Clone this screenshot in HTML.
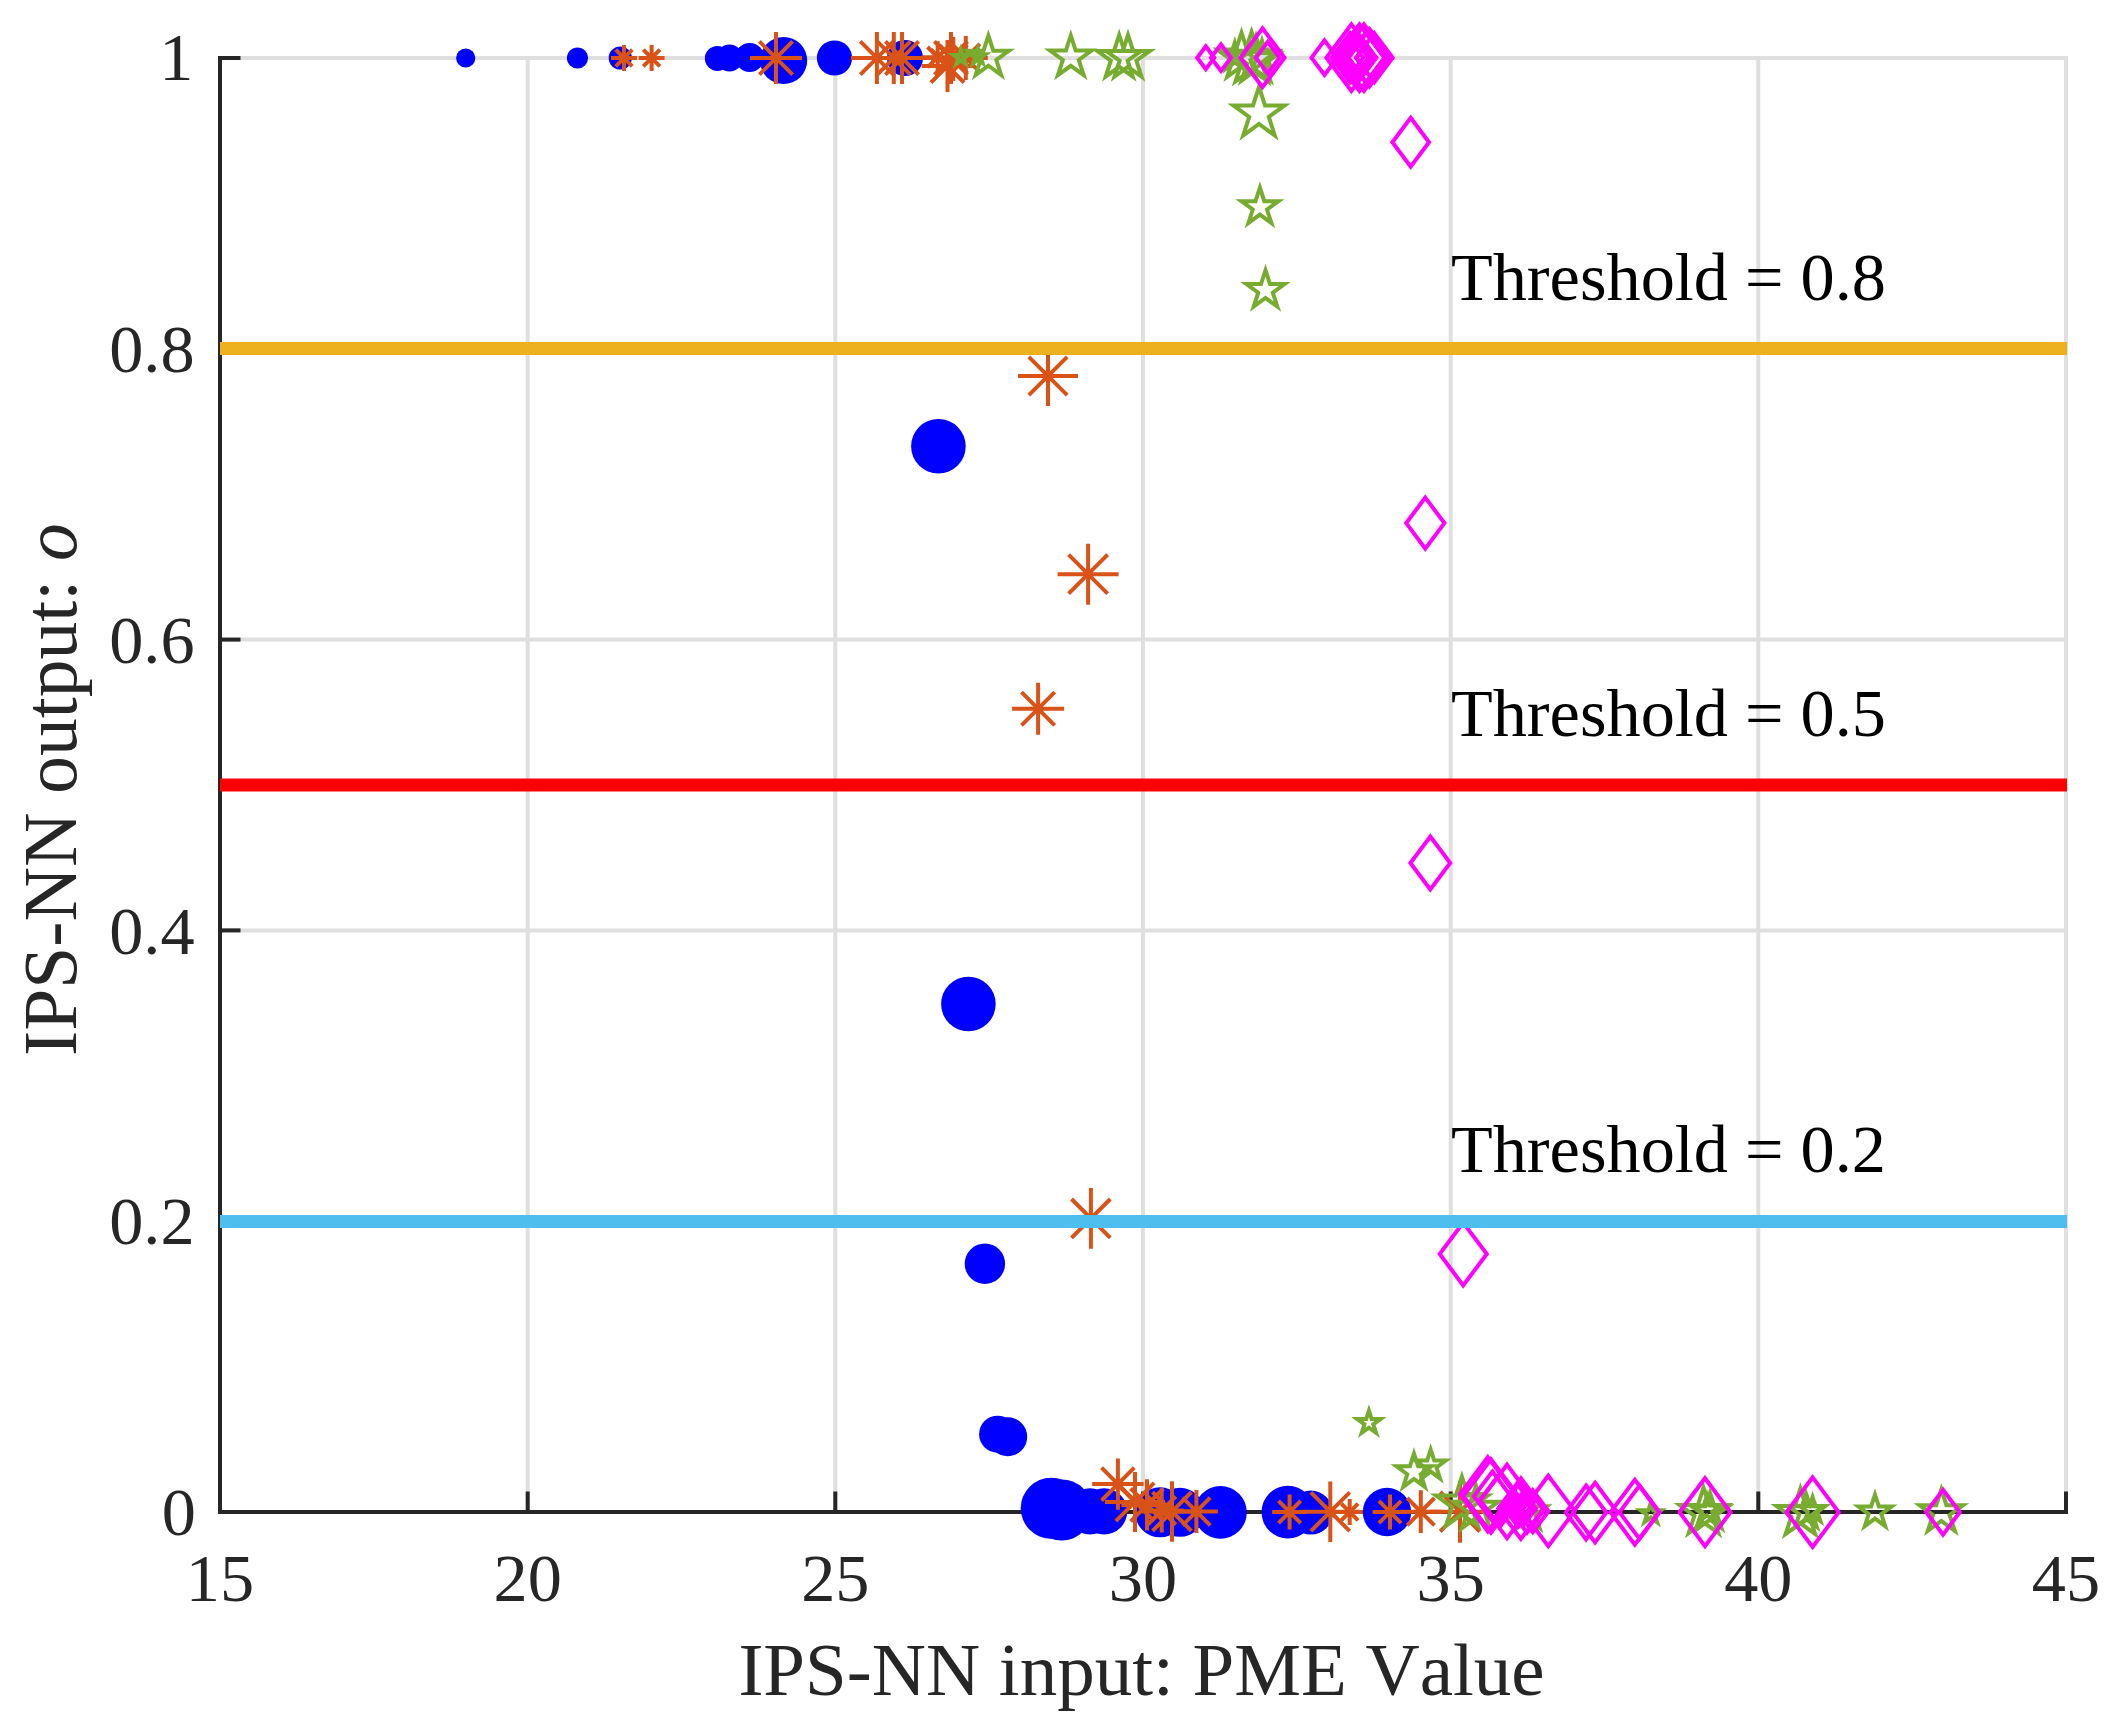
<!DOCTYPE html>
<html lang="en"><head><meta charset="utf-8"><title>IPS-NN output vs PME value</title>
<style>html,body{margin:0;padding:0;background:#fff}body{width:2126px;height:1720px;overflow:hidden}svg{display:block}text{font-family:"Liberation Serif",serif;font-kerning:none}</style></head><body>
<svg width="2126" height="1720" viewBox="0 0 2126 1720">
<rect width="2126" height="1720" fill="#fff"/>
<g stroke="#dfdfdf" stroke-width="4" fill="none">
<line x1="527.7" y1="56.0" x2="527.7" y2="1512.0"/>
<line x1="835.3" y1="56.0" x2="835.3" y2="1512.0"/>
<line x1="1143.0" y1="56.0" x2="1143.0" y2="1512.0"/>
<line x1="1450.7" y1="56.0" x2="1450.7" y2="1512.0"/>
<line x1="1758.3" y1="56.0" x2="1758.3" y2="1512.0"/>
<line x1="2066.0" y1="56.0" x2="2066.0" y2="1512.0"/>
<line x1="220.0" y1="1221.2" x2="2068.0" y2="1221.2"/>
<line x1="220.0" y1="930.4" x2="2068.0" y2="930.4"/>
<line x1="220.0" y1="639.6" x2="2068.0" y2="639.6"/>
<line x1="220.0" y1="348.8" x2="2068.0" y2="348.8"/>
<line x1="220.0" y1="58.0" x2="2068.0" y2="58.0"/>
</g>
<g stroke="#262626" stroke-width="4" fill="none">
<path d="M220.0 58.0V1512.0H2066.0" stroke-linecap="square" stroke-linejoin="miter"/>
<line x1="527.7" y1="1512.0" x2="527.7" y2="1491.5"/>
<line x1="835.3" y1="1512.0" x2="835.3" y2="1491.5"/>
<line x1="1143.0" y1="1512.0" x2="1143.0" y2="1491.5"/>
<line x1="1450.7" y1="1512.0" x2="1450.7" y2="1491.5"/>
<line x1="1758.3" y1="1512.0" x2="1758.3" y2="1491.5"/>
<line x1="2066.0" y1="1512.0" x2="2066.0" y2="1491.5"/>
<line x1="220.0" y1="1221.2" x2="240.5" y2="1221.2"/>
<line x1="220.0" y1="930.4" x2="240.5" y2="930.4"/>
<line x1="220.0" y1="639.6" x2="240.5" y2="639.6"/>
<line x1="220.0" y1="348.8" x2="240.5" y2="348.8"/>
<line x1="220.0" y1="58.0" x2="240.5" y2="58.0"/>
</g>
<g fill="#0000ff">
<circle cx="465.7" cy="58.0" r="9.6"/>
<circle cx="577.5" cy="58.0" r="10.6"/>
<circle cx="620.3" cy="58.0" r="11.6"/>
<circle cx="717.4" cy="58.4" r="12.5"/>
<circle cx="729.5" cy="58.0" r="13.5"/>
<circle cx="749.7" cy="57.5" r="14.6"/>
<circle cx="783.6" cy="60.5" r="23.6"/>
<circle cx="834.5" cy="58.0" r="17.6"/>
<circle cx="905.0" cy="58.0" r="18.0"/>
<circle cx="938.4" cy="446.3" r="27.3"/>
<circle cx="968.4" cy="1004.0" r="27.3"/>
<circle cx="984.9" cy="1263.7" r="20.2"/>
<circle cx="997.6" cy="1434.2" r="18.5"/>
<circle cx="1007.7" cy="1436.7" r="19.5"/>
<circle cx="1051.2" cy="1508.2" r="30.5"/>
<circle cx="1061.7" cy="1510.0" r="30.5"/>
<circle cx="1090.0" cy="1511.4" r="23.2"/>
<circle cx="1104.0" cy="1511.4" r="23.2"/>
<circle cx="1160.0" cy="1512.3" r="25.0"/>
<circle cx="1180.0" cy="1512.3" r="24.5"/>
<circle cx="1220.5" cy="1512.4" r="26.3"/>
<circle cx="1287.9" cy="1512.1" r="26.4"/>
<circle cx="1310.8" cy="1512.6" r="22.0"/>
<circle cx="1387.0" cy="1512.0" r="24.2"/>
</g>
<g stroke="#d95319" stroke-width="4" fill="none">
<path d="M611.0 58.0H637.0M624.0 45.0V71.0M615.7 49.7L632.3 66.3M615.7 66.3L632.3 49.7"/>
<path d="M638.6 58.0H664.6M651.6 45.0V71.0M643.3 49.7L659.9 66.3M643.3 66.3L659.9 49.7"/>
<path d="M750.0 58.0H802.0M776.0 32.0V84.0M759.4 41.4L792.6 74.6M759.4 74.6L792.6 41.4"/>
<path d="M850.9 58.0H902.9M876.9 32.0V84.0M860.3 41.4L893.5 74.6M860.3 74.6L893.5 41.4"/>
<path d="M867.8 58.0H919.8M893.8 32.0V84.0M877.2 41.4L910.4 74.6M877.2 74.6L910.4 41.4"/>
<path d="M876.0 58.0H928.0M902.0 32.0V84.0M885.4 41.4L918.6 74.6M885.4 74.6L918.6 41.4"/>
<path d="M921.7 57.2H953.7M937.7 41.2V73.2M927.5 47.0L947.9 67.4M927.5 67.4L947.9 47.0"/>
<path d="M921.5 66.0H973.5M947.5 40.0V92.0M930.9 49.4L964.1 82.6M930.9 82.6L964.1 49.4"/>
<path d="M925.0 58.0H977.0M951.0 32.0V84.0M934.4 41.4L967.6 74.6M934.4 74.6L967.6 41.4"/>
<path d="M931.3 59.0H975.3M953.3 37.0V81.0M939.2 44.9L967.4 73.1M939.2 73.1L967.4 44.9"/>
<path d="M943.8 58.0H987.8M965.8 36.0V80.0M951.7 43.9L979.9 72.1M951.7 72.1L979.9 43.9"/>
<path d="M1018.0 376.0H1078.0M1048.0 346.0V406.0M1028.8 356.8L1067.2 395.2M1028.8 395.2L1067.2 356.8"/>
<path d="M1057.6 574.2H1118.6M1088.1 543.7V604.7M1068.6 554.7L1107.6 593.7M1068.6 593.7L1107.6 554.7"/>
<path d="M1012.1 708.8H1064.1M1038.1 682.8V734.8M1021.5 692.2L1054.7 725.4M1021.5 725.4L1054.7 692.2"/>
<path d="M1060.6 1218.4H1121.2M1090.9 1188.1V1248.7M1071.5 1199.0L1110.3 1237.8M1071.5 1237.8L1110.3 1199.0"/>
<path d="M1092.2 1484.1H1143.6M1117.9 1458.4V1509.8M1101.5 1467.7L1134.3 1500.5M1101.5 1500.5L1134.3 1467.7"/>
<path d="M1105.0 1502.0H1165.0M1135.0 1472.0V1532.0M1115.8 1482.8L1154.2 1521.2M1115.8 1521.2L1154.2 1482.8"/>
<path d="M1121.4 1504.9H1172.6M1147.0 1479.3V1530.5M1130.6 1488.5L1163.4 1521.3M1130.6 1521.3L1163.4 1488.5"/>
<path d="M1141.7 1511.5H1202.3M1172.0 1481.2V1541.8M1152.6 1492.1L1191.4 1530.9M1152.6 1530.9L1191.4 1492.1"/>
<path d="M1139.7 1510.6H1183.7M1161.7 1488.6V1532.6M1147.6 1496.5L1175.8 1524.7M1147.6 1524.7L1175.8 1496.5"/>
<path d="M1174.9 1511.5H1217.9M1196.4 1490.0V1533.0M1182.6 1497.7L1210.2 1525.3M1182.6 1525.3L1210.2 1497.7"/>
<path d="M1272.2 1512.0H1307.0M1289.6 1494.6V1529.4M1278.5 1500.9L1300.7 1523.1M1278.5 1523.1L1300.7 1500.9"/>
<path d="M1300.0 1511.7H1360.6M1330.3 1481.4V1542.0M1310.9 1492.3L1349.7 1531.1M1310.9 1531.1L1349.7 1492.3"/>
<path d="M1336.6 1512.0H1362.8M1349.7 1498.9V1525.1M1341.3 1503.6L1358.1 1520.4M1341.3 1520.4L1358.1 1503.6"/>
<path d="M1372.6 1512.0H1407.4M1390.0 1494.6V1529.4M1378.9 1500.9L1401.1 1523.1M1378.9 1523.1L1401.1 1500.9"/>
<path d="M1399.4 1511.7H1442.2M1420.8 1490.3V1533.1M1407.1 1498.0L1434.5 1525.4M1407.1 1525.4L1434.5 1498.0"/>
<path d="M1429.0 1511.7H1491.0M1460.0 1480.7V1542.7M1440.2 1491.9L1479.8 1531.5M1440.2 1531.5L1479.8 1491.9"/>
</g>
<g stroke="#77ac30" stroke-width="4" fill="none" stroke-linejoin="miter" stroke-miterlimit="10">
<path d="M960.9 49.8L962.6 55.1L968.1 55.1L963.7 58.3L965.4 63.5L960.9 60.3L956.4 63.5L958.1 58.3L953.7 55.1L959.2 55.1Z"/>
<path d="M978.0 48.8L979.8 54.3L985.5 54.3L980.9 57.6L982.6 63.1L978.0 59.7L973.4 63.1L975.1 57.6L970.5 54.3L976.2 54.3Z"/>
<path d="M988.4 35.7L993.3 50.7L1009.0 50.7L996.3 60.0L1001.2 75.0L988.4 65.7L975.6 75.0L980.5 60.0L967.8 50.7L983.5 50.7Z"/>
<path d="M1070.8 35.5L1075.7 50.6L1091.6 50.6L1078.8 60.0L1083.7 75.1L1070.8 65.8L1057.9 75.1L1062.8 60.0L1050.0 50.6L1065.9 50.6Z"/>
<path d="M1119.2 35.0L1124.4 50.9L1141.1 50.9L1127.6 60.7L1132.7 76.6L1119.2 66.8L1105.7 76.6L1110.8 60.7L1097.3 50.9L1114.0 50.9Z"/>
<path d="M1128.0 35.0L1133.2 50.9L1149.9 50.9L1136.4 60.7L1141.5 76.6L1128.0 66.8L1114.5 76.6L1119.6 60.7L1106.1 50.9L1122.8 50.9Z"/>
<path d="M1234.8 42.6L1238.0 52.6L1248.5 52.6L1240.0 58.7L1243.3 68.6L1234.8 62.5L1226.3 68.6L1229.6 58.7L1221.1 52.6L1231.6 52.6Z"/>
<path d="M1241.5 32.7L1247.0 49.6L1264.7 49.6L1250.4 60.0L1255.8 76.8L1241.5 66.4L1227.2 76.8L1232.6 60.0L1218.3 49.6L1236.0 49.6Z"/>
<path d="M1251.6 31.8L1257.8 50.7L1277.7 50.7L1261.6 62.4L1267.7 81.4L1251.6 69.7L1235.5 81.4L1241.6 62.4L1225.5 50.7L1245.4 50.7Z"/>
<path d="M1256.0 36.4L1261.5 53.3L1279.2 53.3L1264.9 63.7L1270.3 80.5L1256.0 70.1L1241.7 80.5L1247.1 63.7L1232.8 53.3L1250.5 53.3Z"/>
<path d="M1262.0 40.6L1265.7 51.9L1277.6 51.9L1268.0 58.9L1271.6 70.3L1262.0 63.3L1252.4 70.3L1256.0 58.9L1246.4 51.9L1258.3 51.9Z"/>
<path d="M1259.0 86.8L1265.0 105.4L1284.6 105.4L1268.8 116.9L1274.8 135.5L1259.0 124.0L1243.2 135.5L1249.2 116.9L1233.4 105.4L1253.0 105.4Z"/>
<path d="M1259.9 187.7L1264.3 201.2L1278.4 201.2L1267.0 209.5L1271.4 223.0L1259.9 214.6L1248.4 223.0L1252.8 209.5L1241.4 201.2L1255.5 201.2Z"/>
<path d="M1265.5 270.2L1270.0 284.1L1284.6 284.1L1272.8 292.7L1277.3 306.6L1265.5 298.0L1253.7 306.6L1258.2 292.7L1246.4 284.1L1261.0 284.1Z"/>
<path d="M1368.9 1410.7L1371.6 1419.1L1380.5 1419.1L1373.3 1424.3L1376.1 1432.8L1368.9 1427.6L1361.7 1432.8L1364.5 1424.3L1357.3 1419.1L1366.2 1419.1Z"/>
<path d="M1414.0 1453.6L1418.1 1466.3L1431.5 1466.3L1420.7 1474.2L1424.8 1486.9L1414.0 1479.0L1403.2 1486.9L1407.3 1474.2L1396.5 1466.3L1409.9 1466.3Z"/>
<path d="M1430.7 1449.6L1434.3 1460.6L1445.8 1460.6L1436.5 1467.4L1440.0 1478.4L1430.7 1471.6L1421.4 1478.4L1424.9 1467.4L1415.6 1460.6L1427.1 1460.6Z"/>
<path d="M1461.9 1476.7L1468.0 1495.5L1487.8 1495.5L1471.8 1507.1L1477.9 1525.9L1461.9 1514.3L1445.9 1525.9L1452.0 1507.1L1436.0 1495.5L1455.8 1495.5Z"/>
<path d="M1476.0 1485.6L1481.3 1501.8L1498.3 1501.8L1484.5 1511.8L1489.8 1527.9L1476.0 1517.9L1462.2 1527.9L1467.5 1511.8L1453.7 1501.8L1470.7 1501.8Z"/>
<path d="M1476.0 1489.6L1477.4 1494.0L1482.1 1494.0L1478.3 1496.8L1479.8 1501.2L1476.0 1498.4L1472.2 1501.2L1473.7 1496.8L1469.9 1494.0L1474.6 1494.0Z"/>
<path d="M1528.2 1492.8L1532.6 1506.2L1546.7 1506.2L1535.2 1514.5L1539.6 1527.9L1528.2 1519.6L1516.8 1527.9L1521.2 1514.5L1509.7 1506.2L1523.8 1506.2Z"/>
<path d="M1650.8 1502.8L1653.2 1510.2L1661.0 1510.2L1654.7 1514.8L1657.1 1522.2L1650.8 1517.6L1644.5 1522.2L1646.9 1514.8L1640.6 1510.2L1648.4 1510.2Z"/>
<path d="M1703.5 1487.7L1709.1 1505.0L1727.4 1505.0L1712.6 1515.8L1718.3 1533.1L1703.5 1522.4L1688.7 1533.1L1694.4 1515.8L1679.6 1505.0L1697.9 1505.0Z"/>
<path d="M1710.0 1492.8L1714.4 1506.2L1728.5 1506.2L1717.0 1514.5L1721.4 1527.9L1710.0 1519.6L1698.6 1527.9L1703.0 1514.5L1691.5 1506.2L1705.6 1506.2Z"/>
<path d="M1707.0 1495.6L1710.2 1505.6L1720.7 1505.6L1712.2 1511.7L1715.5 1521.6L1707.0 1515.5L1698.5 1521.6L1701.8 1511.7L1693.3 1505.6L1703.8 1505.6Z"/>
<path d="M1806.0 1493.6L1810.1 1506.3L1823.5 1506.3L1812.7 1514.2L1816.8 1526.9L1806.0 1519.0L1795.2 1526.9L1799.3 1514.2L1788.5 1506.3L1801.9 1506.3Z"/>
<path d="M1800.4 1488.6L1806.0 1505.9L1824.3 1505.9L1809.5 1516.7L1815.2 1534.0L1800.4 1523.3L1785.6 1534.0L1791.3 1516.7L1776.5 1505.9L1794.8 1505.9Z"/>
<path d="M1812.6 1497.1L1815.6 1506.2L1825.2 1506.2L1817.4 1511.9L1820.4 1521.0L1812.6 1515.3L1804.8 1521.0L1807.8 1511.9L1800.0 1506.2L1809.6 1506.2Z"/>
<path d="M1875.0 1494.6L1878.9 1506.6L1891.5 1506.6L1881.3 1514.1L1885.2 1526.1L1875.0 1518.6L1864.8 1526.1L1868.7 1514.1L1858.5 1506.6L1871.1 1506.6Z"/>
<path d="M1941.3 1489.4L1946.4 1505.2L1963.1 1505.2L1949.6 1515.0L1954.8 1530.8L1941.3 1521.0L1927.8 1530.8L1933.0 1515.0L1919.5 1505.2L1936.2 1505.2Z"/>
</g>
<g stroke="#ff00ff" stroke-width="4" fill="none" stroke-linejoin="miter" stroke-miterlimit="10">
<path d="M1205.8 46.3L1214.3 57.7L1205.8 69.1L1197.2 57.7Z"/>
<path d="M1221.0 44.4L1231.0 57.7L1221.0 71.0L1211.0 57.7Z"/>
<path d="M1262.5 28.3L1284.5 57.7L1262.5 87.1L1240.5 57.7Z"/>
<path d="M1267.7 41.9L1279.5 57.7L1267.7 73.5L1255.9 57.7Z"/>
<path d="M1324.5 40.4L1337.5 57.7L1324.5 75.0L1311.5 57.7Z"/>
<path d="M1351.4 24.4L1376.4 57.7L1351.4 91.0L1326.4 57.7Z"/>
<path d="M1359.5 24.4L1384.5 57.7L1359.5 91.0L1334.5 57.7Z"/>
<path d="M1364.0 24.4L1389.0 57.7L1364.0 91.0L1339.0 57.7Z"/>
<path d="M1374.3 33.2L1392.7 57.7L1374.3 82.2L1355.9 57.7Z"/>
<path d="M1369.5 29.0L1391.0 57.7L1369.5 86.4L1348.0 57.7Z"/>
<path d="M1355.0 30.0L1375.8 57.7L1355.0 85.4L1334.2 57.7Z"/>
<path d="M1358.0 35.5L1374.7 57.7L1358.0 79.9L1341.3 57.7Z"/>
<path d="M1361.0 41.0L1373.5 57.7L1361.0 74.4L1348.5 57.7Z"/>
<path d="M1364.5 47.0L1372.5 57.7L1364.5 68.4L1356.5 57.7Z"/>
<path d="M1350.0 33.0L1368.5 57.7L1350.0 82.4L1331.5 57.7Z"/>
<path d="M1366.0 32.5L1384.9 57.7L1366.0 82.9L1347.1 57.7Z"/>
<path d="M1362.0 27.5L1384.7 57.7L1362.0 87.9L1339.3 57.7Z"/>
<path d="M1356.0 38.5L1370.4 57.7L1356.0 76.9L1341.6 57.7Z"/>
<path d="M1353.0 44.0L1363.3 57.7L1353.0 71.4L1342.7 57.7Z"/>
<path d="M1410.7 117.8L1429.0 142.2L1410.7 166.6L1392.4 142.2Z"/>
<path d="M1425.3 497.6L1444.4 523.1L1425.3 548.6L1406.2 523.1Z"/>
<path d="M1430.3 836.5L1450.2 863.0L1430.3 889.5L1410.4 863.0Z"/>
<path d="M1463.2 1222.6L1486.8 1254.0L1463.2 1285.4L1439.7 1254.0Z"/>
<path d="M1487.8 1457.1L1515.6 1494.2L1487.8 1531.3L1460.0 1494.2Z"/>
<path d="M1492.4 1471.5L1510.9 1496.2L1492.4 1520.9L1473.9 1496.2Z"/>
<path d="M1500.0 1473.3L1520.0 1500.0L1500.0 1526.7L1480.0 1500.0Z"/>
<path d="M1523.5 1497.9L1531.5 1508.6L1523.5 1519.3L1515.5 1508.6Z"/>
<path d="M1523.5 1491.9L1536.0 1508.6L1523.5 1525.3L1511.0 1508.6Z"/>
<path d="M1527.0 1487.3L1544.0 1510.0L1527.0 1532.7L1510.0 1510.0Z"/>
<path d="M1518.0 1485.3L1533.5 1506.0L1518.0 1526.7L1502.5 1506.0Z"/>
<path d="M1490.9 1459.3L1518.4 1496.0L1490.9 1532.7L1463.4 1496.0Z"/>
<path d="M1507.0 1464.7L1534.5 1501.4L1507.0 1538.1L1479.5 1501.4Z"/>
<path d="M1520.9 1478.3L1543.6 1508.6L1520.9 1538.9L1498.2 1508.6Z"/>
<path d="M1532.8 1490.2L1548.5 1511.2L1532.8 1532.2L1517.0 1511.2Z"/>
<path d="M1548.3 1475.7L1574.7 1510.9L1548.3 1546.1L1521.9 1510.9Z"/>
<path d="M1586.1 1485.5L1606.3 1512.5L1586.1 1539.5L1565.8 1512.5Z"/>
<path d="M1595.1 1482.8L1617.4 1512.6L1595.1 1542.4L1572.8 1512.6Z"/>
<path d="M1634.8 1479.8L1659.1 1512.2L1634.8 1544.6L1610.5 1512.2Z"/>
<path d="M1639.5 1485.5L1659.5 1512.2L1639.5 1538.9L1619.5 1512.2Z"/>
<path d="M1705.0 1478.2L1730.5 1512.2L1705.0 1546.2L1679.5 1512.2Z"/>
<path d="M1812.6 1477.4L1838.7 1512.2L1812.6 1547.0L1786.5 1512.2Z"/>
<path d="M1943.0 1489.8L1959.8 1512.2L1943.0 1534.6L1926.2 1512.2Z"/>
</g>
<line x1="220.0" y1="348.5" x2="2067.0" y2="348.5" stroke="#edb120" stroke-width="13"/>
<line x1="220.0" y1="785.1" x2="2067.0" y2="785.1" stroke="#ff0000" stroke-width="13"/>
<line x1="220.0" y1="1221.5" x2="2067.0" y2="1221.5" stroke="#4dbeee" stroke-width="13"/>
<text x="1451" y="299.6" font-size="68.3" fill="#000">Threshold = 0.8</text>
<text x="1451" y="736.0" font-size="68.3" fill="#000">Threshold = 0.5</text>
<text x="1451" y="1172.2" font-size="68.3" fill="#000">Threshold = 0.2</text>
<g font-size="68.3" fill="#262626">
<text x="220.0" y="1600.6" text-anchor="middle">15</text>
<text x="527.7" y="1600.6" text-anchor="middle">20</text>
<text x="835.3" y="1600.6" text-anchor="middle">25</text>
<text x="1143.0" y="1600.6" text-anchor="middle">30</text>
<text x="1450.7" y="1600.6" text-anchor="middle">35</text>
<text x="1758.3" y="1600.6" text-anchor="middle">40</text>
<text x="2066.0" y="1600.6" text-anchor="middle">45</text>
<text x="196.0" y="1535.2" text-anchor="end">0</text>
<text x="194.6" y="1244.4" text-anchor="end">0.2</text>
<text x="194.6" y="953.6" text-anchor="end">0.4</text>
<text x="194.6" y="662.8" text-anchor="end">0.6</text>
<text x="194.6" y="372.0" text-anchor="end">0.8</text>
<text x="193.5" y="79.7" text-anchor="end">1</text>
</g>
<text x="1141.5" y="1694.5" font-size="75.0" fill="#262626" text-anchor="middle">IPS-NN input: PME Value</text>
<text transform="translate(76,789.5) rotate(-90)" font-size="75.5" fill="#262626" text-anchor="middle">IPS-NN output: <tspan font-style="italic">o</tspan></text>
</svg></body></html>
